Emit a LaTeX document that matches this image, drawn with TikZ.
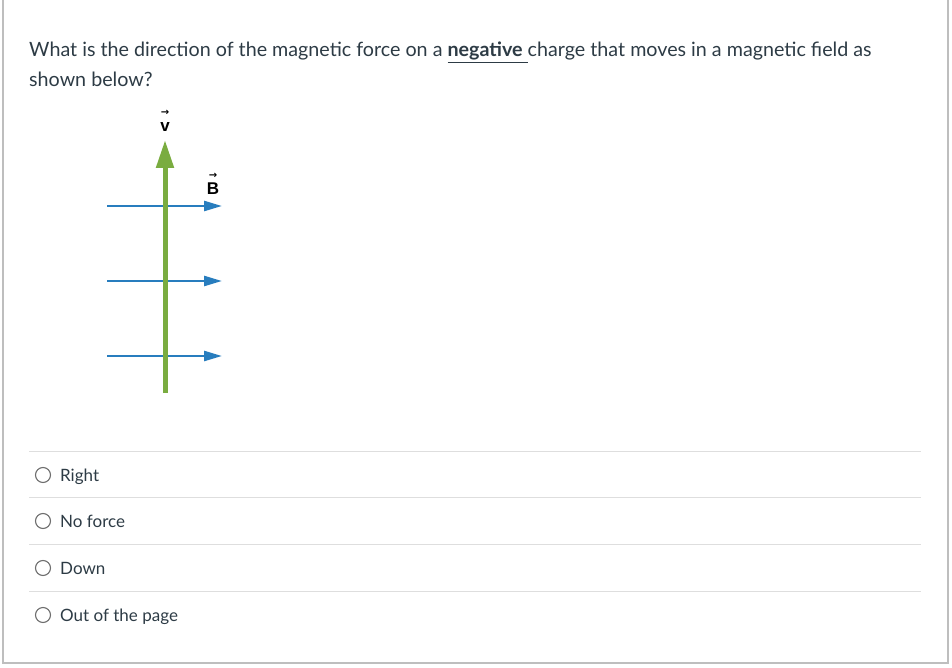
\documentclass[tikz,border=0pt]{standalone}
\usepackage{fontspec}
\setmainfont{Lato}
\newfontfamily\labelfont{Liberation Sans}
\newfontfamily\arrowfont{DejaVu Sans}
\usetikzlibrary{arrows.meta,positioning}
\definecolor{testo}{RGB}{45,59,69}
\definecolor{verde}{RGB}{122,172,64}
\definecolor{blu}{RGB}{40,125,190}
\definecolor{grigio}{RGB}{190,190,190}
\definecolor{riga}{RGB}{222,222,222}
\definecolor{cerchio}{RGB}{110,110,110}
\tikzstyle{quiz}=[
    question/.style={font={\fontsize{19.7}{24}\selectfont},text=testo,anchor=base west,inner sep=0pt},
    answer/.style={font={\fontsize{17}{20}\selectfont},text=testo,anchor=base west,inner sep=0pt},
    radio/.style={circle,draw=cerchio,line width=1.1pt,minimum size=15pt,inner sep=0pt},
    divider/.style={riga,line width=1pt},
    frame/.style={grigio,line width=1.5pt},
]
\tikzstyle{vectors}=[
    velocity/.style={verde,line width=5pt,-{Triangle[width=17pt,length=28pt]}},
    field/.style={blu,line width=2.5pt,-{Triangle[width=10pt,length=18pt]}},
    vec label/.style={font={\fontsize{17}{17}\selectfont\labelfont\bfseries},align=center,inner sep=0pt},
]
\newcommand{\vecname}[1]{{\arrowfont\bfseries\fontsize{10}{10}\selectfont →}\\[-1pt]#1}
\newcommand{\option}[3]{
    \node[radio] (radio#1) at (43,#2) {};
    \node[answer] (label#1) at (60,#2+6) {#3};
    \draw[divider] (29,#2-24) -- (921,#2-24);
}

\begin{document}
\begin{tikzpicture}
[
    quiz,
    vectors,
    x=1pt,
    y=-1pt
]
    \useasboundingbox (0,0) rectangle (952,668);
    \draw[frame] (3,0) -- (3,663) -- (948,663) -- (948,0);

    % question
    \node[question] (qline1) at (29,57) {What is the direction of the magnetic force on a \underline{\textbf{negative}\ }charge that moves in a magnetic field as};
    \node[question] (qline2) at ([yshift=-30pt]qline1.base west) {shown below?};

    % field lines and velocity
    \foreach \i/\y in {1/206,2/281,3/356}{
        \coordinate (Bstart\i) at (107,\y);
        \coordinate (Bend\i) at (222,\y);
        \draw[field] (Bstart\i) -- (Bend\i);
    }
    \coordinate (vstart) at (165,393);
    \coordinate (vend) at (165,140);
    \draw[velocity] (vstart) -- (vend);
    \node[vec label] (vlabel) at (165,121) {\vecname{v}};
    \node[vec label] (Blabel) at (213,184) {\vecname{B}};

    % answers
    \foreach \n/\y/\t in {right/475/Right,noforce/521/No force,down/568/Down,out/615/Out of the page}{
        \option{\n}{\y}{\t}
    }

\end{tikzpicture}
\end{document}
